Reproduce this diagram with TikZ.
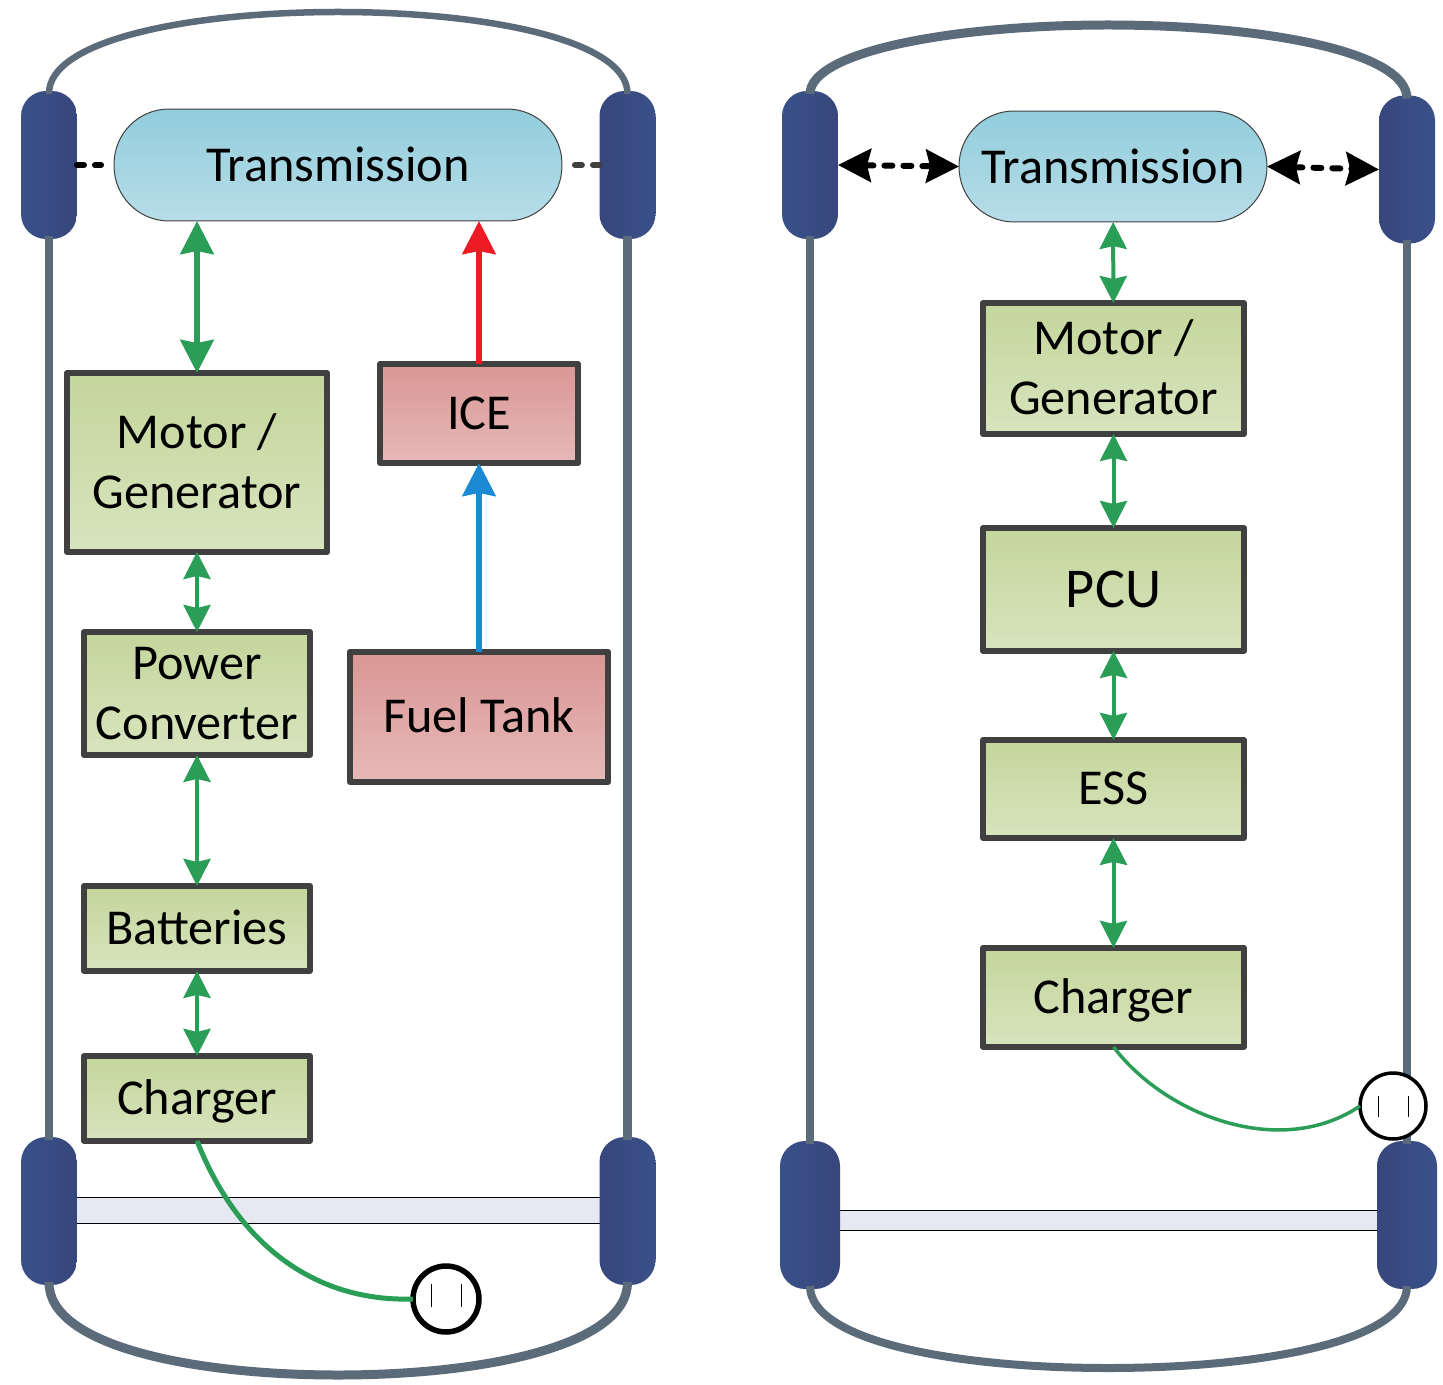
\documentclass[tikz,border=0pt]{standalone}
\usepackage{fontspec}
\setmainfont{Carlito}
\usetikzlibrary{arrows.meta, positioning}
\definecolor{bodygray}{HTML}{5B6B7A}
\definecolor{wheela}{HTML}{3A5089}
\definecolor{wheelb}{HTML}{37477C}
\definecolor{axlefill}{HTML}{E6E9F2}
\definecolor{greentop}{HTML}{C3D69B}
\definecolor{greenbot}{HTML}{D8E4BE}
\definecolor{redtop}{HTML}{D99694}
\definecolor{redbot}{HTML}{E6B9B8}
\definecolor{bluetop}{HTML}{92CDDC}
\definecolor{bluebot}{HTML}{B7DDE8}
\definecolor{linkgreen}{HTML}{2A9D57}
\definecolor{fuelblue}{HTML}{1A8AD4}
\definecolor{iceered}{HTML}{ED1C24}
\definecolor{boxedge}{HTML}{404040}
\tikzstyle{greenbox} = [rectangle, draw=boxedge, line width=0.12cm, line join=round, outer sep=0pt, top color=greentop, bottom color=greenbot, align=center, inner sep=0pt, font=\fontsize{28.6}{34}\selectfont]
\tikzstyle{redbox} = [greenbox, top color=redtop, bottom color=redbot]
\tikzstyle{oneline} = [text height=0.83cm, text depth=0.2cm]
\tikzstyle{gearbox} = [rectangle, rounded corners=1.1cm, draw=black!75, line width=0.02cm, outer sep=0pt, top color=bluetop, bottom color=bluebot, text height=0.88cm, text depth=0.2cm, font=\fontsize{28.6}{34}\selectfont]
\tikzstyle{wheel} = [rectangle, rounded corners=0.5cm, outer sep=0pt, minimum width=1.12cm, minimum height=2.96cm]
\tikzstyle{axle} = [rectangle, fill=axlefill, draw=black, line width=0.02cm, outer sep=0pt]
\tikzstyle{plug} = [circle, draw=black, fill=white, outer sep=0pt, inner sep=0pt, minimum size=1.32cm]
\tikzstyle{carbody} = [draw=bodygray]
\tikzstyle{bigarrow} = [linkgreen, line width=0.13cm, {Stealth[length=0.66cm,width=0.66cm,inset=0.06cm]}-{Stealth[length=0.66cm,width=0.66cm,inset=0.06cm]}]
\tikzstyle{arrow} = [linkgreen, line width=0.08cm, {Stealth[length=0.54cm,width=0.54cm,inset=0.06cm]}-{Stealth[length=0.54cm,width=0.54cm,inset=0.06cm]}]
\tikzstyle{feed} = [line width=0.12cm, -{Stealth[length=0.66cm,width=0.66cm,inset=0.06cm]}]
\tikzstyle{stub} = [line width=0.12cm, line cap=round, dash pattern=on 0.14cm off 0.22cm]
\tikzstyle{shaft} = [black, line width=0.12cm, line cap=round, dash pattern=on 0.16cm off 0.22cm, {Stealth[length=0.66cm,width=0.66cm,inset=0.08cm]}-{Stealth[length=0.66cm,width=0.66cm,inset=0.08cm]}]
\begin{document}
\begin{tikzpicture}[x=0.02cm,y=-0.02cm]
\useasboundingbox (0,0) rectangle (1443,1385);

% Left axle and wheels
\node (axle1) [axle, minimum width=10.7cm, minimum height=0.52cm] at (338,1210) {};
\node (whlfl1) [wheel, left color=wheela, right color=wheelb] at (49,165) {};
\node (whlfr1) [wheel, left color=wheelb, right color=wheela] at (627.5,165) {};
\node (whlrl1) [wheel, left color=wheela, right color=wheelb] at (49,1211) {};
\node (whlrr1) [wheel, left color=wheelb, right color=wheela] at (627.5,1211) {};

% Left body
\draw [carbody, line width=0.13cm] ([yshift=-0.06cm]whlfl1.north) .. controls (48,40) and (190,12) .. (338,12) .. controls (486,12) and (628,40) .. ([yshift=-0.06cm]whlfr1.north);
\draw [carbody, line width=0.18cm] ([yshift=0.06cm]whlrl1.south) .. controls (48,1345) and (190,1375) .. (338,1375) .. controls (486,1375) and (628,1345) .. ([yshift=0.06cm]whlrr1.south);
\draw [carbody, line width=0.18cm] ([yshift=0.06cm]whlfl1.south) -- ([yshift=-0.06cm]whlrl1.north);
\draw [carbody, line width=0.18cm] ([yshift=0.06cm]whlfr1.south) -- ([yshift=-0.06cm]whlrr1.north);

% Left parts
\node (trans1) [gearbox, minimum width=8.96cm, minimum height=2.24cm] at (338,165) {Transmission};
\node (mot1) [greenbox, text depth=0.06cm, minimum width=5.2cm, minimum height=3.58cm] at (197,462.5) {Motor /\\Generator};
\node (conv1) [greenbox, below=1.6cm of mot1, minimum width=4.52cm, minimum height=2.46cm] {Power\\Converter};
\node (bat1) [greenbox, oneline, below=2.62cm of conv1, minimum width=4.52cm, minimum height=1.7cm] {Batteries};
\node (chg1) [greenbox, oneline, below=1.7cm of bat1, minimum width=4.52cm, minimum height=1.7cm] {Charger};
\node (ice1) [redbox, oneline, minimum width=3.96cm, minimum height=1.98cm] at (479,413.5) {ICE};
\node (fuel1) [redbox, oneline, below=3.78cm of ice1, minimum width=5.18cm, minimum height=2.6cm] {Fuel Tank};
\node (plug1) [plug, line width=0.11cm] at (446,1299) {};
\draw [black, line width=0.02cm] ([shift={(-15,-15)}]plug1.center) -- ++(0,23);
\draw [black, line width=0.02cm] ([shift={(15,-15)}]plug1.center) -- ++(0,23);

% Left arrows
\draw [bigarrow] (trans1.south -| mot1.north) -- (mot1.north);
\draw [arrow] (mot1) -- (conv1);
\draw [arrow] (conv1) -- (bat1);
\draw [arrow] (bat1) -- (chg1);
\draw [feed, iceered] (ice1.north) -- (trans1.south -| ice1.north);
\draw [feed, fuelblue] (fuel1) -- (ice1);
\draw [linkgreen, line width=0.1cm] (chg1.south) .. controls (240,1250) and (320,1302) .. (plug1.west);
\draw [stub, black, shorten >=0.26cm] (whlfl1.east) -- (trans1.west);
\draw [stub, boxedge, shorten <=0.26cm] (trans1.east) -- (whlfr1.west);

% Right axle and wheels
\node (axle2) [axle, minimum width=11.5cm, minimum height=0.4cm] at (1108,1220) {};
\node (whlfl2) [wheel, left color=wheela, right color=wheelb] at (810,165) {};
\node (whlfr2) [wheel, left color=wheelb, right color=wheela] at (1407,169.5) {};
\node (whlrl2) [wheel, minimum width=1.2cm, left color=wheela, right color=wheelb] at (810,1215) {};
\node (whlrr2) [wheel, minimum width=1.2cm, left color=wheelb, right color=wheela] at (1407,1215) {};

% Right body
\draw [carbody, line width=0.18cm] ([yshift=-0.06cm]whlfl2.north) .. controls (810,52) and (950,25) .. (1108,25) .. controls (1266,25) and (1407,52) .. ([yshift=-0.06cm]whlfr2.north);
\draw [carbody, line width=0.16cm] ([yshift=0.06cm]whlrl2.south) .. controls (810,1340) and (950,1368) .. (1108,1368) .. controls (1266,1368) and (1407,1340) .. ([yshift=0.06cm]whlrr2.south);
\draw [carbody, line width=0.16cm] ([yshift=0.06cm]whlfl2.south) -- ([yshift=-0.06cm]whlrl2.north);
\draw [carbody, line width=0.16cm] ([yshift=0.06cm]whlfr2.south) -- ([yshift=-0.06cm]whlrr2.north);

% Right parts
\node (trans2) [gearbox, minimum width=6.16cm, minimum height=2.22cm] at (1113,166.5) {Transmission};
\node (mot2) [greenbox, text depth=0.05cm, minimum width=5.22cm, minimum height=2.62cm] at (1113.5,368.5) {Motor /\\Generator};
\node (pcu2) [greenbox, below=1.88cm of mot2, minimum width=5.22cm, minimum height=2.46cm, font=\fontsize{32}{38}\selectfont] {PCU};
\node (ess2) [greenbox, oneline, below=1.78cm of pcu2, minimum width=5.22cm, minimum height=1.96cm] {ESS};
\node (chg2) [greenbox, oneline, below=2.2cm of ess2, minimum width=5.22cm, minimum height=1.98cm] {Charger};
\node (plug2) [plug, line width=0.07cm] at (1393,1106) {};
\draw [black, line width=0.02cm] ([shift={(-15,-10)}]plug2.center) -- ++(0,21);
\draw [black, line width=0.02cm] ([shift={(15,-10)}]plug2.center) -- ++(0,21);

% Right arrows
\draw [arrow] (trans2) -- (mot2);
\draw [arrow] (mot2) -- (pcu2);
\draw [arrow] (pcu2) -- (ess2);
\draw [arrow] (ess2) -- (chg2);
\draw [linkgreen, line width=0.07cm] (chg2.south) .. controls (1165,1115) and (1280,1160) .. (plug2.west);
\draw [shaft] (whlfl2.east) -- (trans2.west);
\draw [shaft] (trans2.east) -- (whlfr2.west);

\end{tikzpicture}
\end{document}
